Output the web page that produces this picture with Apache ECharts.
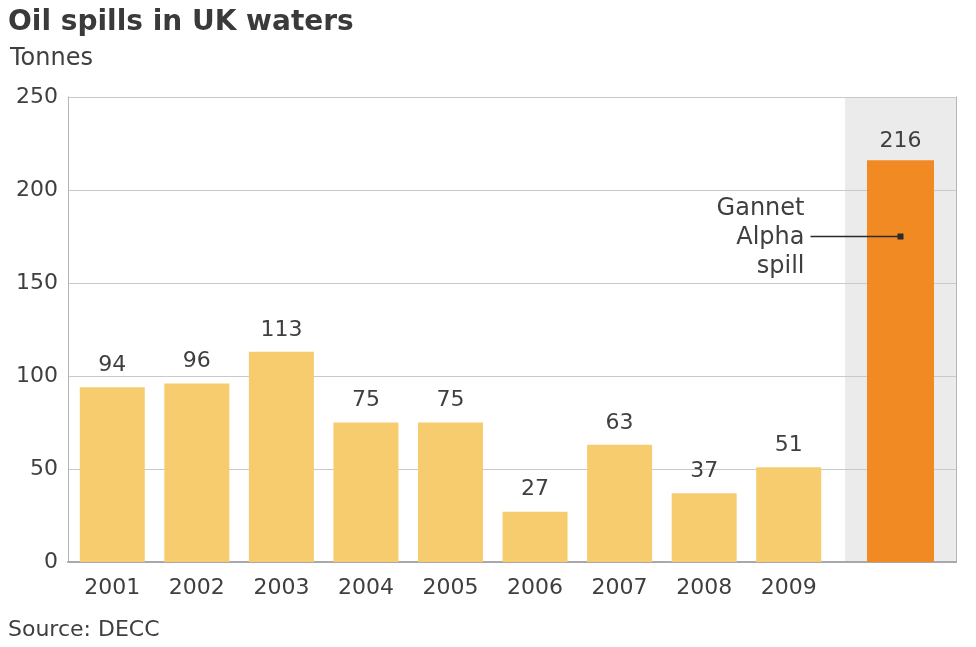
<!DOCTYPE html>
<html><head><meta charset="utf-8">
<script src="https://cdn.jsdelivr.net/npm/echarts@6/dist/echarts.min.js"></script>
<style>html,body{margin:0;padding:0;background:#fff}#c{width:976px;height:647px}</style>
</head><body><div id="c"></div>
<script>
const years = ['2001', '2002', '2003', '2004', '2005', '2006', '2007', '2008', '2009'];
const tonnes = [94, 96, 113, 75, 75, 27, 63, 37, 51];
const spillCategory = ['2011'];
const spillTonnes = [216];
const yMin = 0, yMax = 250, yInterval = 50;
const annotationLines = ['Gannet', 'Alpha', 'spill'];
const annotationValue = 175;

const FONT = '"DejaVu Sans", Verdana, sans-serif';
const TXT = '#3f3f3f';
const GRIDLINE = '#c9c9c9';
const FS = 22;

const chart = echarts.init(document.getElementById('c'), null, {renderer: 'canvas'});
const yBase = {min: yMin, max: yMax, interval: yInterval};

chart.setOption({
  backgroundColor: '#ffffff',
  animation: false,
  textStyle: {fontFamily: FONT},
  title: [
    {text: 'Oil spills in UK waters', left: 8, top: 9, padding: 0,
     textStyle: {fontSize: 28, fontWeight: 'bold', color: '#3a3a3a', fontFamily: FONT}},
    {text: 'Tonnes', left: 10, top: 47, padding: 0,
     textStyle: {fontSize: 24, fontWeight: 'normal', color: TXT, fontFamily: FONT}},
    {text: 'Source: DECC', left: 8, top: 619, padding: 0,
     textStyle: {fontSize: FS, fontWeight: 'normal', color: TXT, fontFamily: FONT}}
  ],
  grid: [
    {left: 68, top: 97, width: 888, height: 465, containLabel: false, outerBoundsMode: 'none'},
    {left: 70, top: 97, width: 761, height: 465, containLabel: false, outerBoundsMode: 'none'},
    {left: 845, top: 97, width: 111, height: 465, containLabel: false, outerBoundsMode: 'none',
     show: true, backgroundColor: '#ebebeb', borderWidth: 0}
  ],
  xAxis: [
    {gridIndex: 0, type: 'category', data: [''],
     axisLine: {show: true, lineStyle: {color: '#a9a9a9', width: 2}},
     axisTick: {show: false}, axisLabel: {show: false}, splitLine: {show: false}},
    {gridIndex: 1, type: 'category', data: years,
     axisLine: {show: false}, axisTick: {show: false}, splitLine: {show: false},
     axisLabel: {fontSize: FS, color: TXT, margin: 15, fontFamily: FONT}},
    {gridIndex: 2, type: 'category', data: spillCategory,
     axisLine: {show: false}, axisTick: {show: false}, splitLine: {show: false},
     axisLabel: {show: false}}
  ],
  yAxis: [
    Object.assign({gridIndex: 0, type: 'value',
     axisLine: {show: true, lineStyle: {color: '#b5b5b5', width: 1}},
     axisTick: {show: false},
     axisLabel: {fontSize: FS, color: TXT, margin: 10, fontFamily: FONT},
     splitLine: {show: true, lineStyle: {color: GRIDLINE, width: 1}}}, yBase),
    Object.assign({gridIndex: 0, type: 'value', position: 'right',
     axisLine: {show: true, lineStyle: {color: '#b5b5b5', width: 1}},
     axisTick: {show: false}, axisLabel: {show: false}, splitLine: {show: false}}, yBase),
    Object.assign({gridIndex: 1, type: 'value', show: false}, yBase),
    Object.assign({gridIndex: 2, type: 'value', show: false}, yBase)
  ],
  series: [
    {type: 'bar', xAxisIndex: 1, yAxisIndex: 2, data: tonnes, barWidth: 65,
     itemStyle: {color: '#f6cc6e'},
     label: {show: true, position: 'top', distance: 11, fontSize: FS, color: TXT, fontFamily: FONT}},
    {type: 'bar', xAxisIndex: 2, yAxisIndex: 3, data: spillTonnes, barWidth: 67,
     itemStyle: {color: '#f28a24'},
     label: {show: true, position: 'top', distance: 8, fontSize: FS, color: TXT, fontFamily: FONT}}
  ]
});

const p = chart.convertToPixel({seriesIndex: 1}, [spillCategory[0], annotationValue]);
chart.setOption({
  graphic: [
    {type: 'line', z: 100, shape: {x1: p[0] - 90, y1: p[1], x2: p[0], y2: p[1]},
     style: {stroke: '#2b2b2b', lineWidth: 1.5}},
    {type: 'rect', z: 100, shape: {x: p[0] - 3, y: p[1] - 3, width: 6, height: 6},
     style: {fill: '#2b2b2b'}},
    {type: 'text', z: 100, x: p[0] - 96, y: p[1] + 1,
     style: {text: annotationLines.join('\n'), align: 'right', verticalAlign: 'middle',
             font: '24px ' + FONT, lineHeight: 29, fill: TXT}}
  ]
});
</script>
</body></html>
